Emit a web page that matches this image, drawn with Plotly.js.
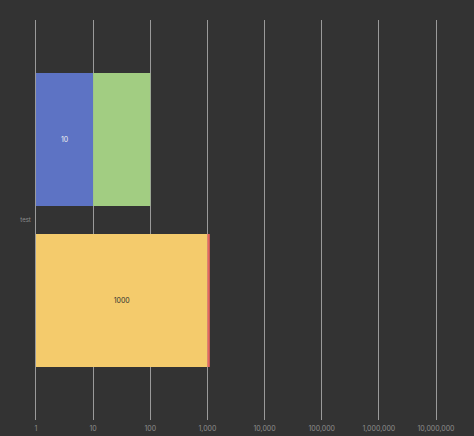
<!DOCTYPE html>
<html>
<head>
<meta charset="utf-8">
<script src="https://cdn.plot.ly/plotly-3.0.1.min.js"></script>
<style>
  html, body { margin: 0; padding: 0; background: #333333; }
  #chart { width: 474px; height: 436px; }
</style>
</head>
<body>
<div id="chart"></div>
<script>
  // values
  const categories = ['test'];
  const blueValues = [10];
  const greenValues = [90];
  const yellowValues = [1000];
  const redValues = [100];
  const tickValues = [1, 10, 100, 1000, 10000, 100000, 1000000, 10000000];
  const tickLabels = ['1', '10', '100', '1,000', '10,000', '100,000', '1,000,000', '10,000,000'];

  const font = 'Inter, "Noto Sans", sans-serif';
  const gridColor = '#9a9a9a';

  function bar(values, base, color, group, label, textColor) {
    return {
      type: 'bar',
      orientation: 'h',
      y: categories,
      x: values,
      base: base,
      offsetgroup: group,
      marker: { color: color, line: { width: 0 } },
      text: label ? values.map(v => String(v)) : undefined,
      textposition: label ? 'inside' : 'none',
      insidetextanchor: 'middle',
      textangle: 0,
      textfont: { family: font, size: 7, color: textColor },
      hoverinfo: 'none'
    };
  }

  const data = [
    bar(yellowValues, undefined, '#f4cb6c', 'b', true, '#333333'),
    bar(redValues, yellowValues, '#e8675e', 'b', false),
    bar(blueValues, undefined, '#5d73c4', 'a', true, '#eeeeee'),
    bar(greenValues, blueValues, '#a2cd82', 'a', false)
  ];

  const layout = {
    width: 474,
    height: 436,
    paper_bgcolor: '#333333',
    plot_bgcolor: '#333333',
    margin: { l: 36, r: 38, t: 20, b: 16 },
    showlegend: false,
    barmode: 'group',
    bargap: 0.195,
    bargroupgap: 0.174,
    font: { family: font, size: 7, color: '#8c8c8c' },
    xaxis: {
      type: 'log',
      range: [0, 7],
      tickvals: tickValues,
      ticktext: tickLabels,
      showgrid: true,
      gridcolor: gridColor,
      gridwidth: 1,
      zeroline: false,
      showline: false,
      ticks: '',
      ticklabelstandoff: 3,
      tickfont: { family: font, size: 7, color: '#8c8c8c' }
    },
    yaxis: {
      type: 'category',
      showgrid: false,
      zeroline: false,
      showline: true,
      mirror: true,
      linecolor: gridColor,
      linewidth: 1,
      layer: 'below traces',
      ticks: '',
      ticklabelstandoff: 3,
      tickfont: { family: font, size: 6, color: '#8c8c8c' }
    }
  };

  Plotly.newPlot('chart', data, layout, { displayModeBar: false, staticPlot: true });
</script>
</body>
</html>
